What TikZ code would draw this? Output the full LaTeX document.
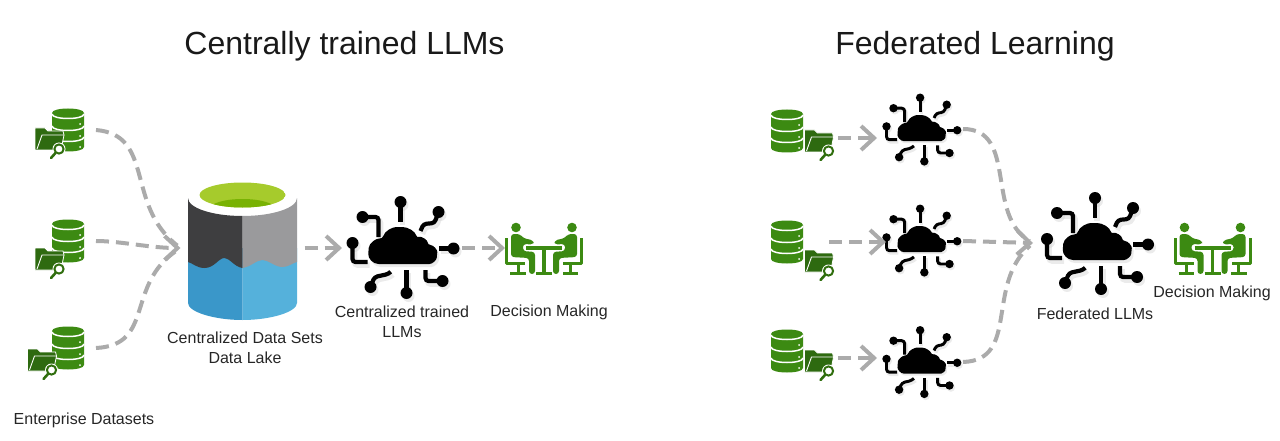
\documentclass[tikz,border=0pt]{standalone}
\usepackage{fontspec}
\setmainfont{Liberation Sans}
\usetikzlibrary{arrows.meta}
\definecolor{dbgreen}{HTML}{3C8A12}
\definecolor{folderdark}{HTML}{2E6A10}
\definecolor{flowgray}{HTML}{ABABAB}
\definecolor{lakelime}{HTML}{A6CB2C}
\definecolor{lakegreen}{HTML}{78B203}
\definecolor{lakedark}{HTML}{3E3E40}
\definecolor{lakegray}{HTML}{9A9A9C}
\definecolor{lakeblue}{HTML}{3A97C9}
\definecolor{lakesky}{HTML}{55B1DB}
\newcommand{\cloudspokes}[1]{%
    \fill[#1] (-21,18) .. controls (-30,18) and (-34.5,12) .. (-34,5)
        .. controls (-33.5,-3) and (-26,-8) .. (-20,-7)
        .. controls (-18,-15) and (-10,-19) .. (-3,-19)
        .. controls (6,-19) and (13,-14) .. (14,-8)
        .. controls (19,-10) and (25,-6) .. (25,-1)
        .. controls (31,-1) and (35,4) .. (34.5,9)
        .. controls (34,14) and (30,18) .. (24,18) -- cycle;
    \draw[#1] (-2,-44) -- (-2,-24);
    \draw[#1] (-40,-29) -- (-24,-29) -- (-24,-9);
    \draw[#1] (36,-34) -- (32,-23) -- (21,-22) -- (18,-15);
    \draw[#1] (-50,-3) -- (-50,16) -- (-35,16);
    \draw[#1] (51,2.5) -- (36,2.5);
    \draw[#1] (-32,41) -- (-28,31) -- (-14,28) -- (-12,26);
    \draw[#1] (4,47) -- (4,24);
    \draw[#1] (40,35) -- (23,35) -- (23,24);
    \foreach \dotx/\doty in {-2/-44,-40/-29,36/-34,-50/-3,51/2.5,-32/41,4/47,40/35}
        \fill[#1] (\dotx,\doty) circle (6);
}
\tikzset{
    x=1pt, y=-1pt,
    iconbox/.style={inner sep=0pt, outer sep=0pt, minimum height=30pt},
    flow/.style={draw=flowgray, line width=4pt, dash pattern=on 13pt off 7pt},
    flowtip/.style={flow, -{Straight Barb[length=13pt,width=24pt,line width=4pt]}},
    lbl/.style={font=\fontsize{16}{20}\selectfont, text=black!85, align=center, inner sep=0pt},
    heading/.style={font=\fontsize{32}{36}\selectfont, text=black!90, inner sep=0pt},
    pics/dbstack/.style={code={
        \fill[dbgreen] (-16,-17) -- (-16,17) .. controls (-16,23) and (16,23) .. (16,17)
            -- (16,-17) .. controls (16,-23) and (-16,-23) .. cycle;
        \foreach \rimy in {-16,-4,7}
            \draw[white, line width=1.5pt] (-16,\rimy) .. controls (-16,\rimy+6) and (16,\rimy+6) .. (16,\rimy);
        \foreach \doty in {-6,6,17}
            \fill[white] (12,\doty) circle (1);
    }},
    pics/folderlens/.style={code={
        \fill[folderdark, draw=white, line width=.8pt] (-15,-11) -- (-5,-11) -- (-2,-8) -- (13,-8)
            -- (14,-4) -- (11,11) -- (-15,11) -- cycle;
        \draw[white, line width=.9pt] (-13,10) -- (-8,-4) -- (14,-4);
        \fill[white] (9,10) circle (6.5);
        \draw[dbgreen!80!black, line width=2pt] (9,10) circle (4.6);
        \draw[dbgreen!80!black, line width=2.6pt, line cap=round] (5.5,14) -- (1,19);
    }},
    pics/cloudicon/.style={code={
        \begin{scope}[scale=#1, rounded corners=3pt]
            \begin{scope}[shift={(2,3)}]
                \cloudspokes{black!22, opacity=.35, line width=#1*5.5pt}
            \end{scope}
            \cloudspokes{black, line width=#1*4.2pt}
        \end{scope}
    }},
    pics/meetingicon/.style={code={
        \foreach \sidex in {1,-1} {
            \begin{scope}[xscale=\sidex, dbgreen, line join=round]
                \fill (-28,-21.5) circle (4.8);
                \fill[rounded corners=3pt] (-33,-15) -- (-24,-15) -- (-21,-11) -- (-10.5,-8.5) -- (-10.5,-4.5)
                    -- (-21,-5) -- (-21,2) -- (-9,3) -- (-9,25) -- (-15,25) -- (-15,9) -- (-33,8) -- cycle;
                \draw[line width=3pt] (-37.5,-11) -- (-37.5,14) -- (-19,14);
                \draw[line width=3pt] (-26,14) -- (-26,24);
                \draw[line width=3pt] (-34,24.5) -- (-18.5,24.5);
            \end{scope}
        }
        \draw[dbgreen, line width=3.5pt] (-18,-1) -- (18,-1);
        \draw[dbgreen, line width=3.5pt] (0,-1) -- (0,24);
        \draw[dbgreen, line width=3pt] (-8,24.5) -- (8,24.5);
    }},
    pics/lakeicon/.style={code={
        \fill[lakeblue] (-54.5,0) -- (-54.5,55) .. controls (-54.5,64) and (-28,72) .. (0,72) -- (0,0) -- cycle;
        \fill[lakesky] (54.5,0) -- (54.5,55) .. controls (54.5,64) and (28,72) .. (0,72) -- (0,0) -- cycle;
        \fill[lakedark] (-54.5,-50) .. controls (-54.5,-40) and (-30,-32) .. (0,-32) -- (0,20)
            .. controls (-8,19) and (-13,10) .. (-18,10) .. controls (-24,10) and (-28,20) .. (-38,20)
            .. controls (-46,20) and (-50,15) .. (-54.5,14) -- cycle;
        \fill[lakegray] (54.5,-50) .. controls (54.5,-40) and (30,-32) .. (0,-32) -- (0,20)
            .. controls (8,19) and (14,12) .. (20,12) .. controls (26,12) and (32,19) .. (40,19)
            .. controls (46,19) and (50,15) .. (54.5,14) -- cycle;
        \begin{scope}
            \clip (0,-53) ellipse (43 and 12.5);
            \fill[lakelime] (0,-53) ellipse (43 and 12.5);
            \fill[lakegreen] (0,-39) ellipse (33 and 10);
        \end{scope}
    }},
}
\begin{document}
\begin{tikzpicture}
    \useasboundingbox (0,0) rectangle (1280,441);
    \node[heading] (titleleft) at (344.5,46.5) {Centrally trained LLMs};
    \node[heading] (titleright) at (975,46.5) {Federated Learning};

    % centrally trained
    \node[iconbox, minimum width=56pt] (db1) at (68,130) {};
    \node[iconbox, minimum width=56pt] (db2) at (68,241) {};
    \node[iconbox, minimum width=56pt] (db3) at (68,348) {};
    \node[iconbox, minimum width=124pt] (lake) at (242.5,248) {};
    \node[iconbox, minimum width=120pt] (llm) at (402,248) {};
    \node[iconbox, minimum width=78pt] (meet) at (544,248) {};
    \pic at (db1) {dbstack};
    \pic at (50,139) {folderlens};
    \pic at (db2) {dbstack};
    \pic at (50,259) {folderlens};
    \pic at (db3) {dbstack};
    \pic at (42.5,360) {folderlens};
    \pic at (lake) {lakeicon};
    \pic at (402.5,246) {cloudicon=1};
    \pic at (544,249) {meetingicon};

    \draw[flow, shorten >=4pt] (db1.east) .. controls (155,135) and (125,205) .. (lake.west);
    \draw[flow, shorten >=4pt] (db3.east) .. controls (155,345) and (125,285) .. (lake.west);
    \draw[flowtip] (db2.east) .. controls (120,241) and (150,248) .. (lake.west);
    \draw[flowtip] (lake.east) -- (llm.west);
    \draw[flowtip] (llm.east) -- (meet.west);

    \node[lbl] (lakelabel) at (245,348) {Centralized Data Sets\\Data Lake};
    \node[lbl] (llmlabel) at (402,321.5) {Centralized trained\\LLMs};
    \node[lbl] (meetlabel) at (549,312) {Decision Making};
    \node[lbl] (dblabel) at (84,420) {Enterprise Datasets};

    % federated
    \node[iconbox, minimum width=67pt] (fdb1) at (804.5,138) {};
    \node[iconbox, minimum width=58pt] (fdb2) at (800,242) {};
    \node[iconbox, minimum width=67pt] (fdb3) at (804.5,358) {};
    \node[iconbox, minimum width=83pt] (fnode1) at (921.5,129) {};
    \node[iconbox, minimum width=83pt] (fnode2) at (921.5,241) {};
    \node[iconbox, minimum width=83pt] (fnode3) at (921.5,362) {};
    \node[iconbox, minimum width=128pt] (fllm) at (1097,243) {};
    \node[iconbox, minimum width=78pt] (fmeet) at (1212.5,249) {};
    \pic at (787,131) {dbstack};
    \pic at (819.5,141) {folderlens};
    \pic at (787,242) {dbstack};
    \pic at (819.5,261) {folderlens};
    \pic at (787,351) {dbstack};
    \pic at (819.5,361) {folderlens};
    \pic at (921.5,128.5) {cloudicon=.7};
    \pic at (921.5,239.5) {cloudicon=.7};
    \pic at (921.5,361) {cloudicon=.7};
    \pic at (1097,242) {cloudicon=1};
    \pic at (fmeet) {meetingicon};

    \draw[flowtip, shorten >=3pt] (fdb1.east) -- (fdb1.east -| fnode1.west);
    \draw[flowtip, shorten >=-6pt] (fdb2.east) -- (fdb2.east -| fnode2.west);
    \draw[flowtip, shorten >=3pt] (fdb3.east) -- (fdb3.east -| fnode3.west);
    \draw[flow, shorten >=4pt] (fnode1.east) .. controls (1018,129) and (985,215) .. (fllm.west);
    \draw[flow, shorten >=4pt] (fnode3.east) .. controls (1020,360) and (985,285) .. (fllm.west);
    \draw[flowtip] (fnode2.east) -- (fllm.west);

    \node[lbl] (fllmlabel) at (1095,314) {Federated LLMs};
    \node[lbl] (fmeetlabel) at (1212,293) {Decision Making};
\end{tikzpicture}
\end{document}
